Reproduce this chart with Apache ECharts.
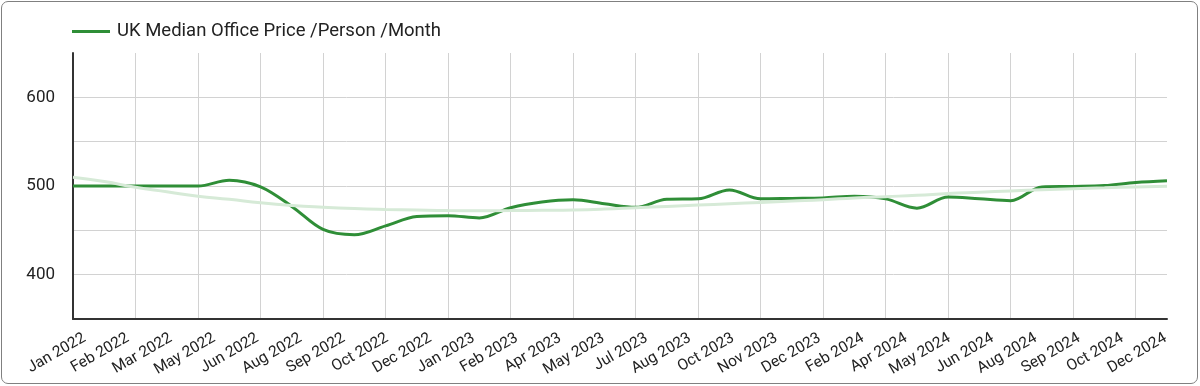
<!DOCTYPE html>
<html>
<head>
<meta charset="utf-8">
<script src="https://cdn.jsdelivr.net/npm/echarts@6/dist/echarts.min.js"></script>
<style>
  html, body { margin: 0; padding: 0; background: #fff; }
  #frame { position: absolute; left: 1px; top: 1px; width: 1197px; height: 383px; box-sizing: border-box; border: 1px solid #808080; border-radius: 7px; pointer-events: none; }
  #chart { position: absolute; left: 0; top: 0; width: 1200px; height: 386px; }
</style>
</head>
<body>
<div id="chart"></div>
<div id="frame"></div>
<script>
const seriesName = 'UK Median Office Price /Person /Month';

const months = [
  'Jan 2022','Feb 2022','Mar 2022','Apr 2022','May 2022','Jun 2022','Jul 2022','Aug 2022','Sep 2022','Oct 2022','Nov 2022','Dec 2022',
  'Jan 2023','Feb 2023','Mar 2023','Apr 2023','May 2023','Jun 2023','Jul 2023','Aug 2023','Sep 2023','Oct 2023','Nov 2023','Dec 2023',
  'Jan 2024','Feb 2024','Mar 2024','Apr 2024','May 2024','Jun 2024','Jul 2024','Aug 2024','Sep 2024','Oct 2024','Nov 2024','Dec 2024'
];

const priceValues = [
  500, 500, 500, 500, 500, 506.5, 499, 477, 451, 445, 455, 465.5,
  466.5, 464, 475.5, 482, 484.5, 480, 476, 485, 485.5, 495.5, 485.5, 486,
  486.5, 488.5, 485.5, 475, 487.5, 485.5, 483.5, 499, 499.5, 500.5, 504, 506
];

const trendValues = [
  509.8, 505, 498.5, 493.5, 488.5, 485, 481, 478, 476, 474.5, 473.5, 472.8,
  472.3, 472.2, 472.3, 472.6, 473, 474, 475.5, 477, 478.5, 480, 481.5, 483,
  484.5, 486.5, 488, 489.5, 491.5, 493, 494.5, 495.8, 497, 498, 499, 499.6
];

const xTickLabels = [
  'Jan 2022','Feb 2022','Mar 2022','May 2022','Jun 2022','Aug 2022','Sep 2022','Oct 2022','Dec 2022',
  'Jan 2023','Feb 2023','Apr 2023','May 2023','Jul 2023','Aug 2023','Oct 2023','Nov 2023','Dec 2023',
  'Feb 2024','Apr 2024','May 2024','Jun 2024','Aug 2024','Sep 2024','Oct 2024','Dec 2024'
];

const yTickLabels = [400, 500, 600];

const mainColor = '#2f8e37';
const trendColor = '#d6ead7';
const font = 'Roboto, "Liberation Sans", Arial, sans-serif';

const chart = echarts.init(document.getElementById('chart'), null, { renderer: 'canvas' });
chart.setOption({
  animation: false,
  backgroundColor: 'transparent',
  legend: {
    left: 72,
    top: 22,
    padding: 0,
    itemWidth: 38,
    itemHeight: 3,
    data: [{ name: seriesName, icon: 'rect' }],
    textStyle: { fontFamily: font, fontSize: 18.5, color: '#222', padding: [0, 0, 0, 2], lineHeight: 19 }
  },
  grid: [
    { left: 73, right: 33, top: 53, height: 266 },
    { left: 84.5, right: 34.5, top: 53, height: 266 }
  ],
  xAxis: [
    {
      type: 'category', gridIndex: 0, data: months, boundaryGap: false,
      axisLine: { show: true, lineStyle: { color: '#333', width: 2 } },
      axisTick: { show: false },
      axisLabel: { show: false },
      splitLine: { show: true, interval: 1, lineStyle: { color: '#d2d2d2', width: 1 } }
    },
    {
      type: 'value', gridIndex: 1, min: 0, max: xTickLabels.length - 1, interval: 1,
      axisLine: { show: false }, axisTick: { show: false }, splitLine: { show: false },
      axisLabel: {
        rotate: 30, margin: 18, fontSize: 15.5, color: '#222', fontFamily: font,
        formatter: function (v) { return xTickLabels[Math.round(v)] || ''; }
      }
    }
  ],
  yAxis: [
    {
      type: 'value', gridIndex: 0, min: 350, max: 650, interval: 50,
      axisLine: { show: true, lineStyle: { color: '#333', width: 2 } },
      axisTick: { show: false },
      axisLabel: {
        margin: 18, fontSize: 17, color: '#222', fontFamily: font,
        formatter: function (v) { return yTickLabels.indexOf(v) >= 0 ? String(v) : ''; }
      },
      splitLine: { show: true, showMinLine: false, showMaxLine: false, lineStyle: { color: '#d2d2d2', width: 1 } }
    },
    { type: 'value', gridIndex: 1, show: false, min: 0, max: 1 }
  ],
  series: [
    {
      name: seriesName, type: 'line', xAxisIndex: 0, yAxisIndex: 0,
      data: priceValues, smooth: 0.35, symbol: 'none', z: 2,
      itemStyle: { color: mainColor },
      lineStyle: { color: mainColor, width: 3 }
    },
    {
      name: 'Trend', type: 'line', xAxisIndex: 0, yAxisIndex: 0,
      data: trendValues, smooth: true, symbol: 'none', z: 3,
      itemStyle: { color: trendColor },
      lineStyle: { color: trendColor, width: 3 }
    }
  ]
});
</script>
</body>
</html>
